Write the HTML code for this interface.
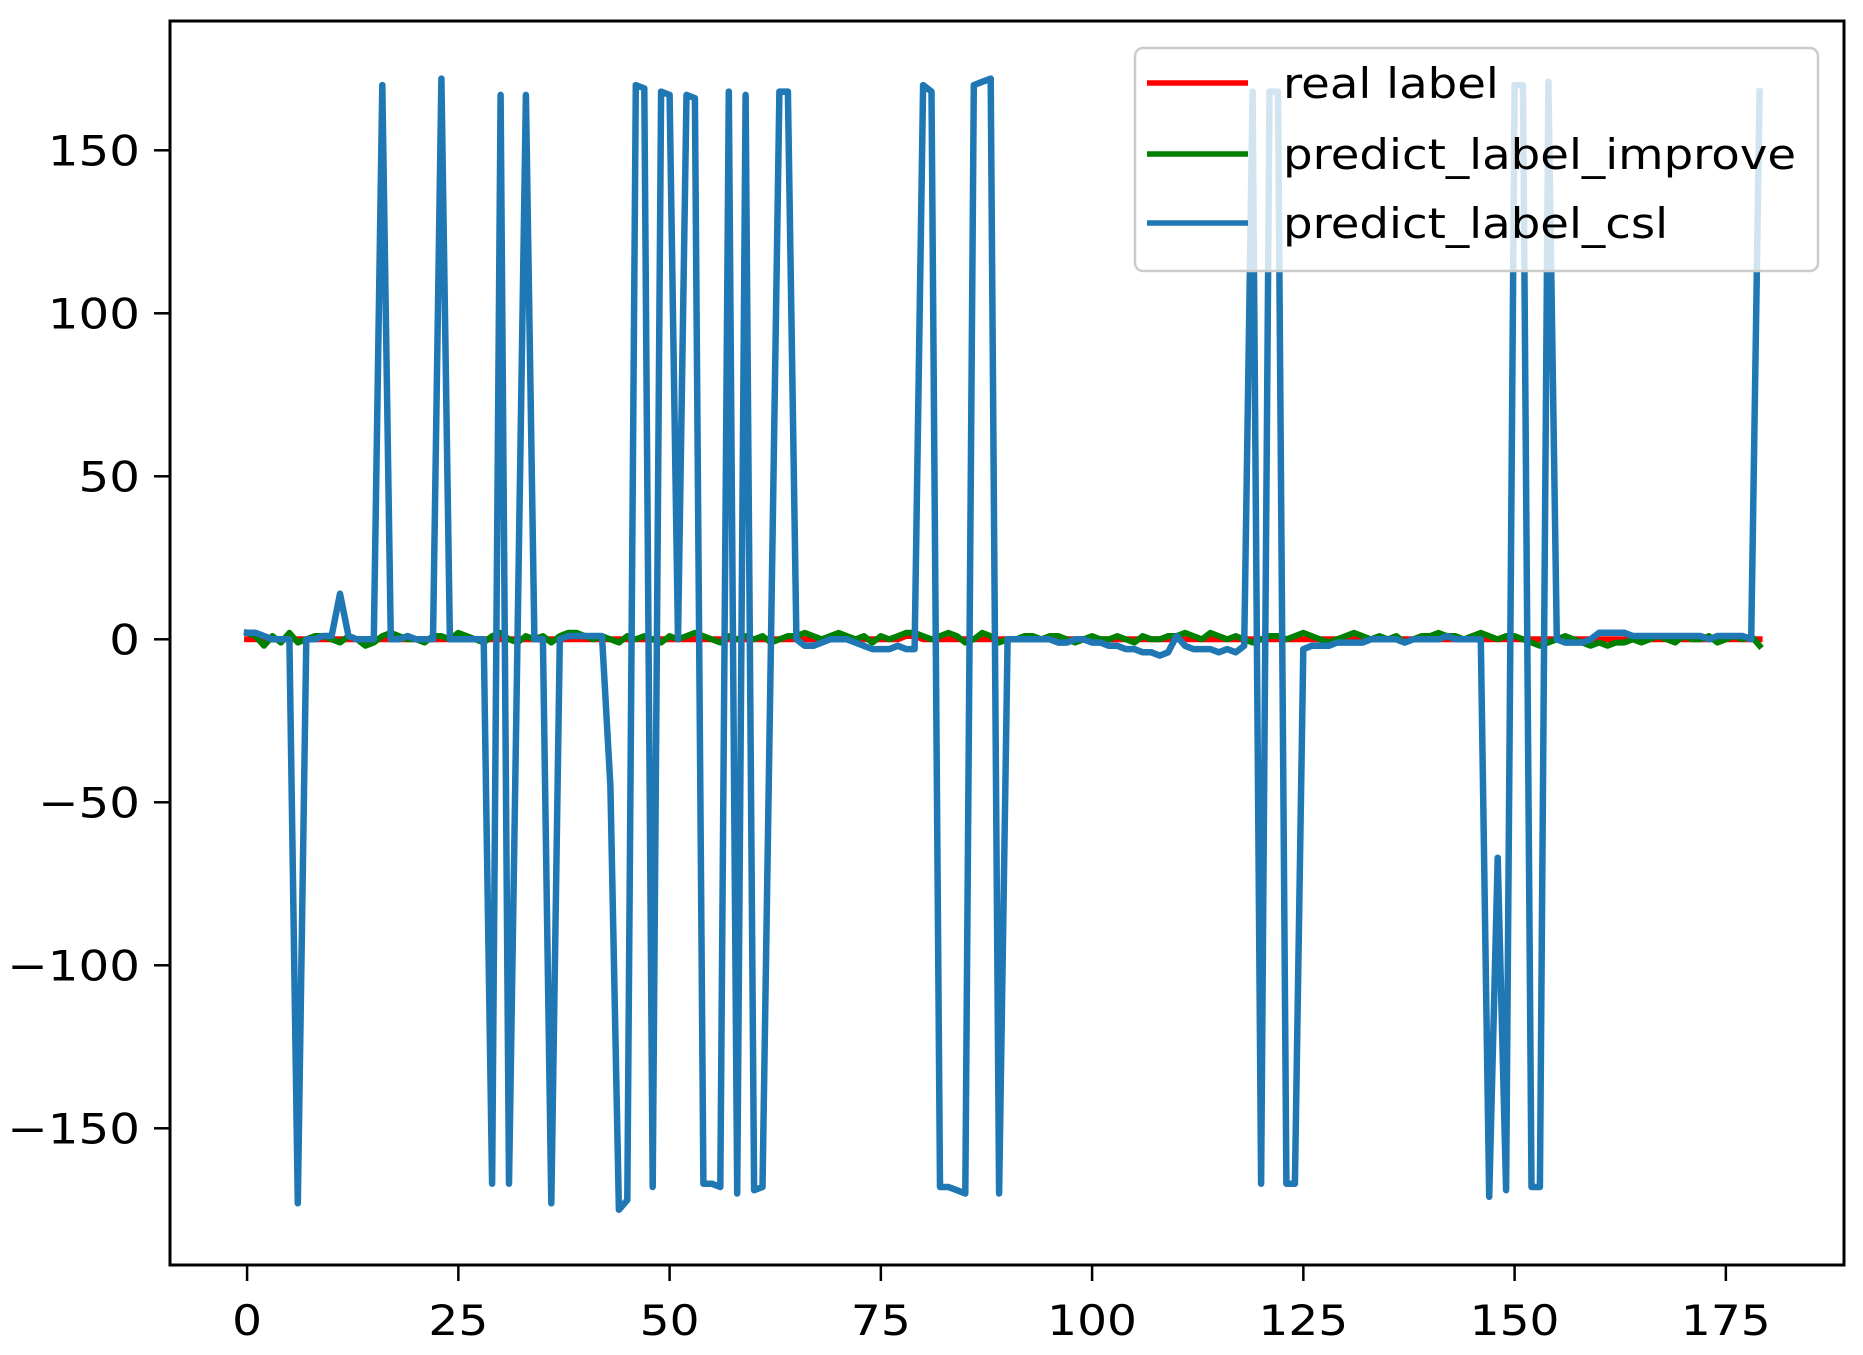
<!DOCTYPE html>
<html><head><meta charset="utf-8"><style>
html,body{margin:0;padding:0;background:#fff;}
svg{display:block;font-family:"DejaVu Sans","Liberation Sans",sans-serif;}
</style></head><body>
<svg id="chart" width="1863" height="1355" viewBox="0 0 1863 1355" xmlns="http://www.w3.org/2000/svg">
<rect x="0" y="0" width="1863" height="1355" fill="#fff"/>
<g id="plot"></g>
<g id="axes"></g>
</svg>
<script>
const xTicks = [0,25,50,75,100,125,150,175];
const yTicks = [150,100,50,0,-50,-100,-150];
const yTickLabels = ["150","100","50","0","\u221250","\u2212100","\u2212150"];
const seriesNames = ["real label","predict_label_improve","predict_label_csl"];
const realLabel = [
0,0,0,0,0,0,0,0,0,0, 0,0,0,0,0,0,0,0,0,0, 0,0,0,0,0,0,0,0,0,0, 0,0,0,0,0,0,0,0,0,0,
0,0,0,0,0,0,0,0,0,0, 0,0,0,0,0,0,0,0,0,0, 0,0,0,0,0,0,0,0,0,0, 0,0,0,0,0,0,0,0,1,1,
0,0,0,0,0,0,0,0,0,0, 0,0,0,0,0,0,0,0,0,0, 0,0,0,0,0,0,0,0,0,0, 0,0,0,0,0,0,0,0,0,0,
0,0,0,0,0,0,0,0,0,0, 0,0,0,0,0,0,0,0,0,0, 0,0,0,0,0,0,0,0,0,0, 0,0,0,0,0,0,0,0,0,0,
0,0,0,0,0,0,0,0,0,0, 0,0,0,0,0,0,0,0,0,0];
const improve = [
2,1,-2,1,-1,2,-1,0,1,1, 0,-1,1,0,-2,-1,1,2,1,0, 0,-1,1,1,0,2,1,0,-1,1, 2,0,-1,1,0,1,-1,1,2,2,
1,0,1,0,-1,1,0,1,0,-1, 1,0,1,2,1,0,-1,1,0,1, 0,1,-1,0,1,1,2,1,0,1, 2,1,0,1,-1,1,0,1,2,2,
1,0,1,2,1,-1,0,2,1,-1, 0,0,1,1,0,1,1,0,-1,0, 1,0,0,1,0,-1,1,0,0,1, 1,2,1,0,2,1,0,1,0,-1,
0,1,1,0,1,2,1,0,-1,0, 1,2,1,0,1,0,1,-1,0,1, 1,2,1,1,0,1,2,1,0,1, 1,0,-1,-2,-1,0,1,0,-1,-2,
-1,-2,-1,-1,0,-1,0,1,0,-1, 1,0,0,1,-1,0,1,0,1,-2];
const csl = [
2,2,1,0,0,0,-173,0,0,1, 1,14,1,0,0,0,170,0,0,1, 0,0,0,172,0,0,0,0,0,-167,
167,-167,0,167,0,0,-173,0,1,1, 1,1,1,-45,-175,-172,170,169,-168,168,
167,0,167,166,-167,-167,-168,168,-170,167, -169,-168,0,168,168,0,-2,-2,-1,0,
0,0,-1,-2,-3,-3,-3,-2,-3,-3, 170,168,-168,-168,-169,-170,170,171,172,-170,
0,0,0,0,0,0,-1,-1,0,0, -1,-1,-2,-2,-3,-3,-4,-4,-5,-4,
1,-2,-3,-3,-3,-4,-3,-4,-2,168, -167,168,168,-167,-167,-3,-2,-2,-2,-1,
-1,-1,-1,0,0,0,0,-1,0,0, 0,0,1,0,0,0,0,-171,-67,-169,
170,170,-168,-168,171,0,-1,-1,-1,0, 2,2,2,2,1,1,1,1,1,1, 1,1,1,0,1,1,1,1,0,168];

const NS="http://www.w3.org/2000/svg";
const L=170,R=1844,T=21,B=1265;
function xs(v){return 247.1+v*8.45;}
function ys(v){return 639.3-v*3.26;}
function mk(tag,attrs,parent){const e=document.createElementNS(NS,tag);for(const k in attrs)e.setAttribute(k,attrs[k]);parent.appendChild(e);return e;}
function stretch(t,f){const w=t.getComputedTextLength();t.setAttribute('textLength',(w*f).toFixed(1));t.setAttribute('lengthAdjust','spacingAndGlyphs');}
const plot=document.getElementById('plot');
const axes=document.getElementById('axes');
const cp=mk('clipPath',{id:'clip'},plot);
mk('rect',{x:L,y:T,width:R-L,height:B-T},cp);
function line(arr,color,w,name){
  const d=arr.map((v,i)=>(i?'L':'M')+xs(i).toFixed(1)+' '+ys(v).toFixed(1)).join(' ');
  const p=mk('path',{d:d,fill:'none',stroke:color,'stroke-width':w,'stroke-linejoin':'round','stroke-linecap':'square','clip-path':'url(#clip)'},plot);
  
  
}
line(realLabel,'#ff0000',6,'real-label-line');
line(improve,'#008000',6,'predict-improve-line');
line(csl,'#1f77b4',6.5,'predict-csl-line');

const frame=mk('rect',{x:L,y:T,width:R-L,height:B-T,fill:'none',stroke:'#000','stroke-width':3},axes);


xTicks.forEach(v=>{
  const t=mk('line',{x1:xs(v),x2:xs(v),y1:B,y2:B+16,stroke:'#000','stroke-width':2.5},axes);
  
  
  const tx=mk('text',{x:xs(v),y:B+70,'text-anchor':'middle','font-size':42,fill:'#000'},axes);
  tx.textContent=String(v);
  
  
  stretch(tx,1.12);
});
yTicks.forEach((v,i)=>{
  const t=mk('line',{x1:L-16,x2:L,y1:ys(v),y2:ys(v),stroke:'#000','stroke-width':2.5},axes);
  
  
  const tx=mk('text',{x:L-30,y:ys(v)+15,'text-anchor':'end','font-size':42,fill:'#000'},axes);
  tx.textContent=yTickLabels[i];
  
  
  stretch(tx,1.15);
});
const lg=mk('g',{},axes);


mk('rect',{x:1135,y:48,width:683,height:223,rx:8,fill:'rgba(255,255,255,0.8)',stroke:'#cccccc','stroke-width':2.5},lg);
const cols=['#ff0000','#008000','#1f77b4'];
const ly=[83,154,223];
seriesNames.forEach((n,i)=>{
  const s=mk('line',{x1:1147,x2:1248,y1:ly[i],y2:ly[i],stroke:cols[i],'stroke-width':5.5},lg);
  
  
  const t=mk('text',{x:1283,y:ly[i]+15,'font-size':42,fill:'#000'},lg);
  t.textContent=n;
  
  
  stretch(t,1.11);
});
</script>
</body></html>
